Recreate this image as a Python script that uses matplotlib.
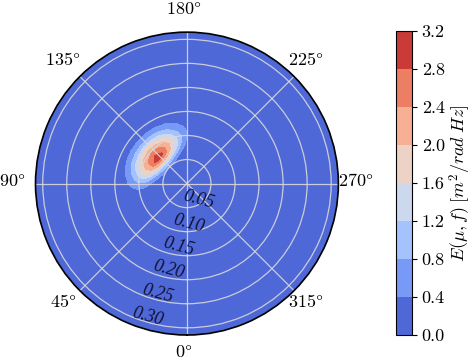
import numpy as np
import matplotlib
matplotlib.use("Agg")
import matplotlib.pyplot as plt
from matplotlib.transforms import ScaledTranslation

plt.rcParams['mathtext.fontset'] = 'cm'
plt.rcParams['font.family'] = 'serif'
plt.rcParams['font.serif'] = ['cmr10', 'DejaVu Serif']
plt.rcParams['axes.formatter.use_mathtext'] = True

# direction grid (deg) and frequency grid (Hz)
theta_deg = np.arange(0, 370, 10)
freq = np.round(np.arange(0.0, 0.33, 0.01), 2)

# spectrum values read around the peak (rest of the field is ~0)
blk_theta = [80, 90, 100, 110, 120, 130, 140, 150, 160, 170, 180, 190]
blk_freq = [0.04, 0.05, 0.06, 0.07, 0.08, 0.09, 0.10, 0.11, 0.12, 0.13, 0.14]
blk_E = [
    [0.00, 0.00, 0.00, 0.04, 0.08, 0.10, 0.08, 0.04, 0.04, 0.00, 0.00, 0.00],
    [0.00, 0.04, 0.10, 0.23, 0.35, 0.41, 0.38, 0.28, 0.15, 0.08, 0.00, 0.00],
    [0.00, 0.12, 0.35, 0.70, 1.05, 1.23, 1.14, 0.84, 0.47, 0.19, 0.04, 0.00],
    [0.08, 0.28, 0.77, 1.45, 2.00, 2.25, 2.15, 1.70, 1.05, 0.44, 0.12, 0.00],
    [0.12, 0.50, 1.25, 2.00, 2.62, 3.13, 2.85, 2.30, 1.60, 0.77, 0.23, 0.04],
    [0.17, 0.70, 1.50, 2.05, 2.50, 2.78, 2.70, 2.30, 1.80, 1.02, 0.33, 0.04],
    [0.23, 0.76, 1.36, 1.85, 2.15, 2.30, 2.20, 2.00, 1.57, 1.01, 0.39, 0.08],
    [0.23, 0.63, 1.02, 1.38, 1.61, 1.70, 1.66, 1.49, 1.18, 0.78, 0.38, 0.08],
    [0.21, 0.44, 0.70, 0.89, 0.99, 1.04, 1.02, 0.94, 0.78, 0.54, 0.30, 0.08],
    [0.15, 0.28, 0.41, 0.50, 0.54, 0.54, 0.54, 0.51, 0.45, 0.33, 0.19, 0.08],
    [0.08, 0.15, 0.21, 0.25, 0.25, 0.25, 0.25, 0.25, 0.23, 0.19, 0.10, 0.04],
]

levels = [0.0, 0.4, 0.8, 1.2, 1.6, 2.0, 2.4, 2.8, 3.2]
r_ticks = [0.05, 0.10, 0.15, 0.20, 0.25, 0.30]
t_ticks = [0, 45, 90, 135, 180, 225, 270, 315]

E = np.zeros((len(freq), len(theta_deg)))
i0 = list(freq).index(blk_freq[0])
j0 = list(theta_deg).index(blk_theta[0])
E[i0:i0 + len(blk_freq), j0:j0 + len(blk_theta)] = np.array(blk_E)

TH, FR = np.meshgrid(np.deg2rad(theta_deg), freq)

fig = plt.figure(figsize=(4.74, 3.61), dpi=100)
ax = fig.add_axes([0.0749, 0.072, 0.639, 0.839], projection='polar')
ax.set_theta_zero_location('S')
ax.set_theta_direction(-1)
cs = ax.contourf(TH, FR, E, levels=levels, cmap='coolwarm')
rmax = 0.315
ax.set_ylim(0, rmax)

ax.set_thetagrids(t_ticks, [''] * len(t_ticks))
ax.set_rgrids(r_ticks, [''] * len(r_ticks))
ax.grid(True, color='#d8d8d8', linewidth=0.9, alpha=0.9)
ax.spines['polar'].set_linewidth(1.2)

# angle labels just outside the circle
for t in t_ticks:
    a = np.deg2rad(t)
    dx = (-20 * np.sin(a) - 3) / 100
    dy = (-20 * np.cos(a) + 3) / 100
    ax.text(a, rmax, r'$%d\degree$' % t, ha='center', va='center', fontsize=13,
            transform=ax.transData + ScaledTranslation(dx, dy, fig.dpi_scale_trans),
            clip_on=False)

# radial labels, drawn along the 23.6 deg direction
off = ax.transData + ScaledTranslation(0.222, 0.069, fig.dpi_scale_trans)
for r in r_ticks:
    ax.text(np.deg2rad(23.6), r * 1.06, '%.2f' % r, transform=off, ha='center', va='center',
            family='Liberation Serif', style='italic', fontsize=13, rotation=-15,
            color='#111133')

cax = fig.add_axes([0.835, 0.072, 0.034, 0.842])
cb = fig.colorbar(cs, cax=cax, ticks=levels)
cb.ax.set_yticklabels(['%.1f' % v for v in levels], fontsize=13)
cb.set_label(r'$E(\mu,f)\;[m^2/rad\;Hz]$', fontsize=13, labelpad=2)

fig.savefig('out.png', dpi=100)
